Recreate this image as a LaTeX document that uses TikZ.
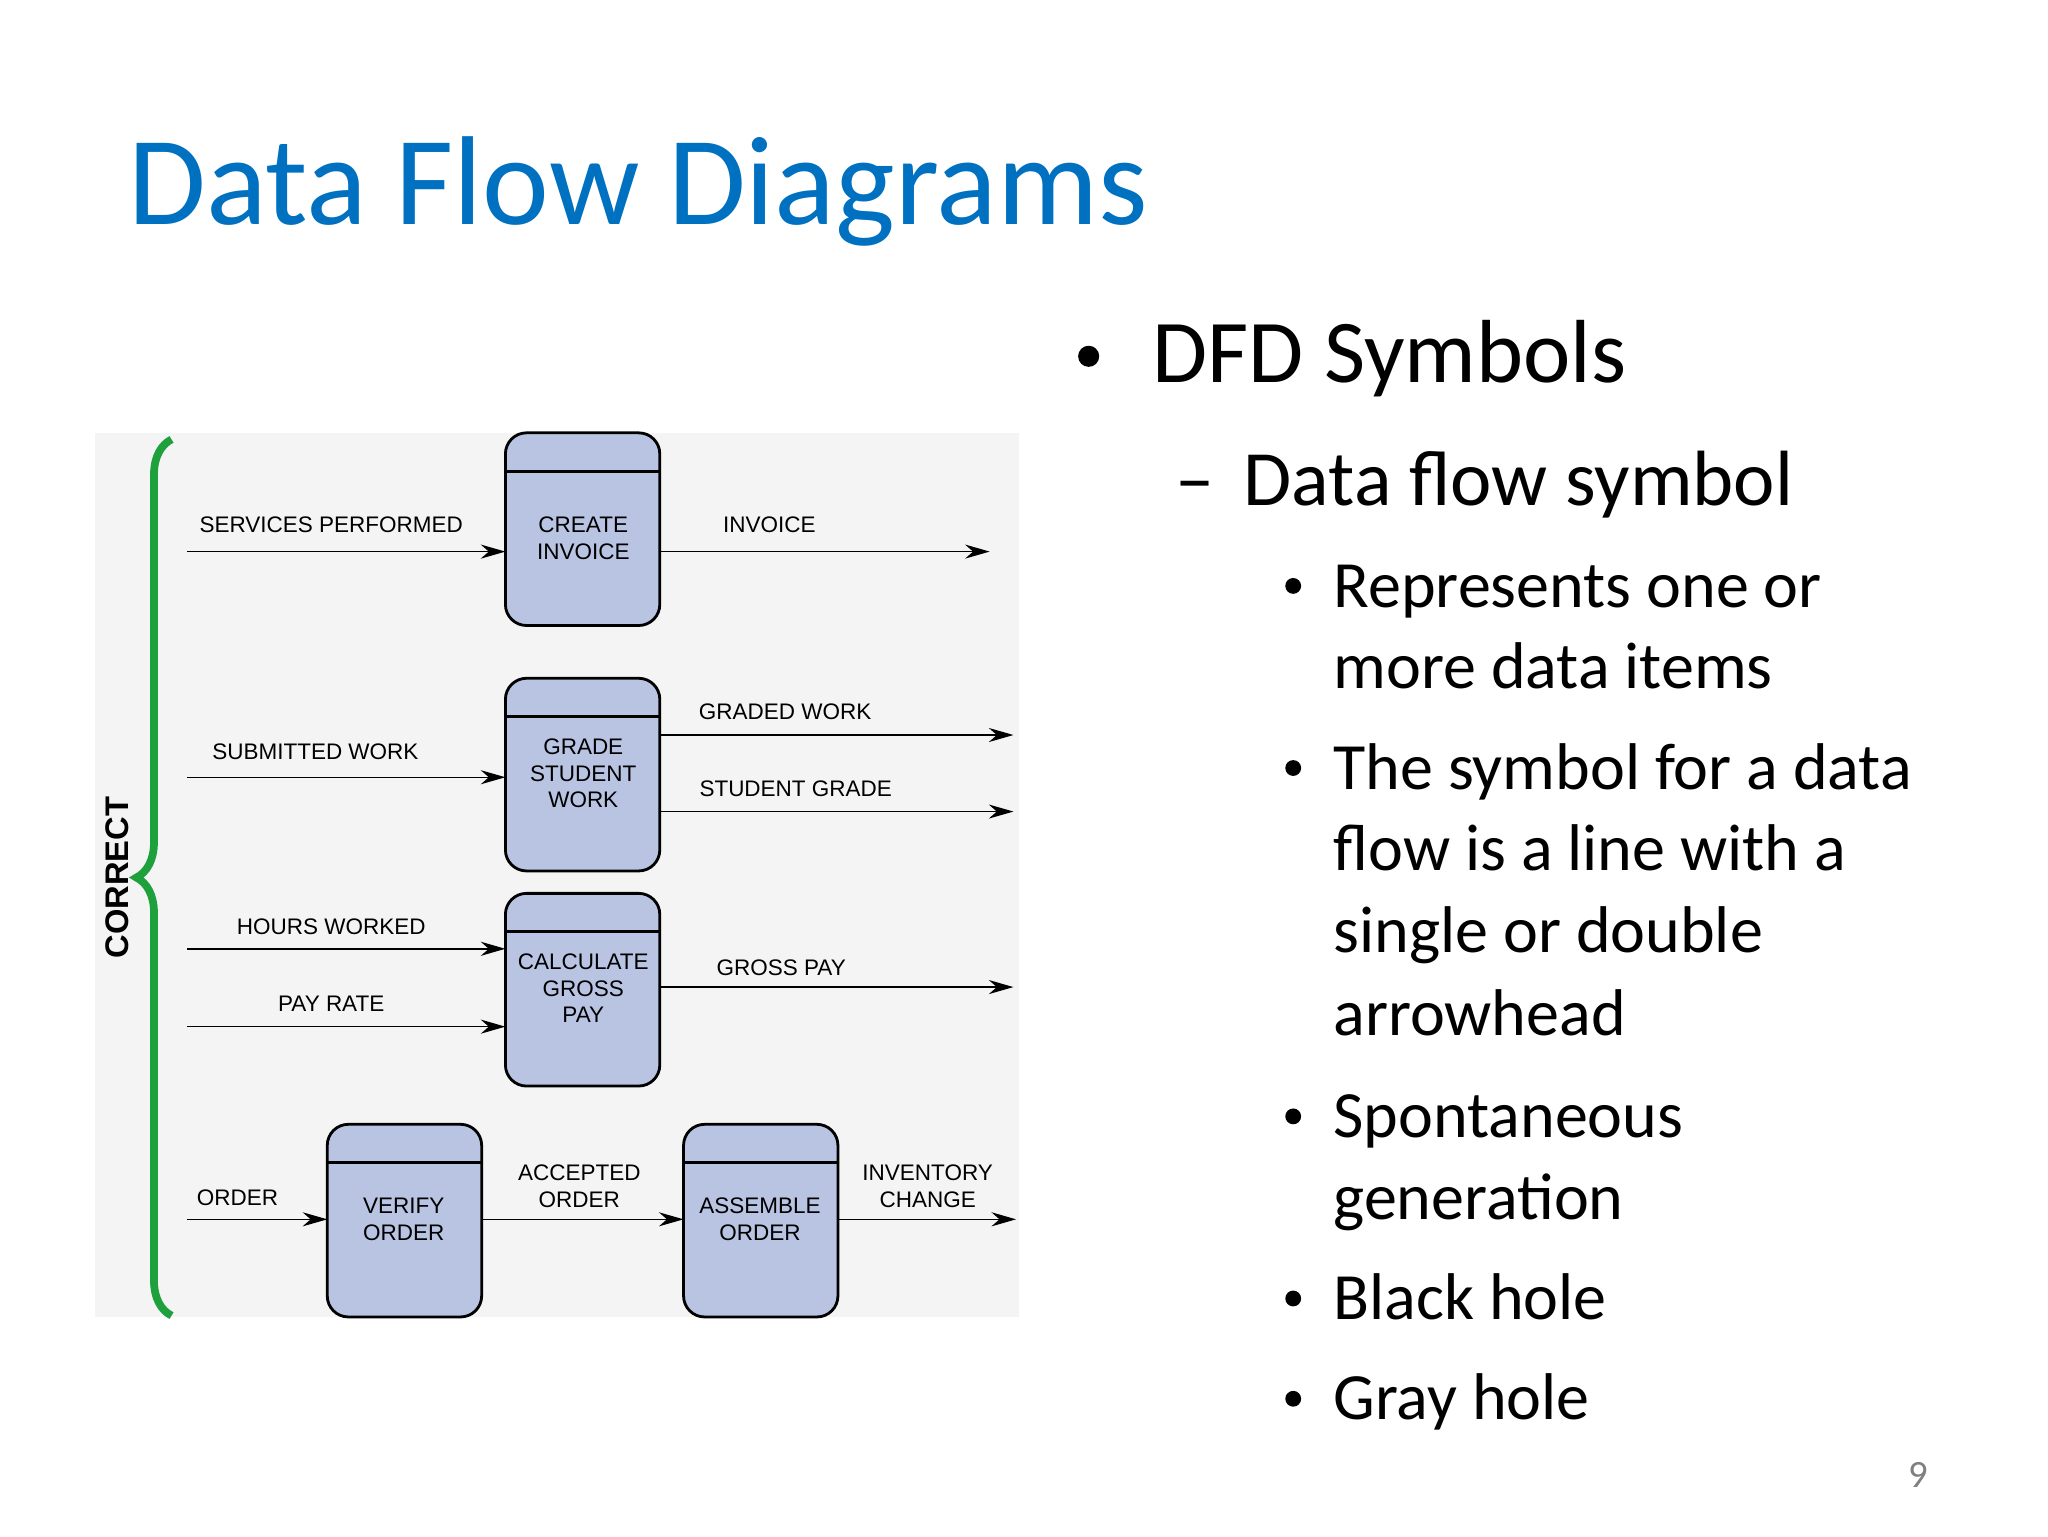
\documentclass[tikz,border=0pt]{standalone}
\usepackage{fontspec}
\setmainfont{Carlito}
\newfontfamily\dfdfont{Liberation Sans}
\usetikzlibrary{arrows.meta,decorations.pathreplacing}
\definecolor{titleblue}{RGB}{0,112,192}
\definecolor{procfill}{RGB}{184,196,226}
\definecolor{panelgray}{RGB}{244,244,244}
\definecolor{bracegreen}{RGB}{30,160,60}
\tikzset{
  proc/.style={draw,thick,rounded corners=6pt,fill=procfill},
  flow/.style={-{Stealth[length=7pt,width=4pt]},thin},
  lbl/.style={font=\dfdfont\fontsize{6.4}{7.6}\selectfont,align=center,inner sep=0pt},
  pt1/.style={font=\fontsize{25.5}{30}\selectfont,anchor=base west,inner sep=0pt},
  pt2/.style={font=\fontsize{22.3}{28}\selectfont,anchor=base west,inner sep=0pt},
  pt3/.style={font=\fontsize{18.8}{24}\selectfont,anchor=base west,inner sep=0pt},
  dot/.style={circle,fill,inner sep=0pt,minimum size=#1},
}
\begin{document}
\begin{tikzpicture}[x=0.013196cm,y=-0.013196cm]
\useasboundingbox (0,0) rectangle (1552,1164);
% title
\node[anchor=base west,inner sep=0pt,text=titleblue,font=\fontsize{36}{42}\selectfont] (title) at (97,170) {Data Flow Diagrams};
% diagram panel
\fill[panelgray] (72,328) rectangle (772,998);
\draw[bracegreen,line width=2.2pt,decorate,decoration={brace,amplitude=10pt}] (130,997) -- (130,333);
\node[rotate=90,font=\dfdfont\bfseries\fontsize{9.3}{11}\selectfont] (correct) at (89,665) {CORRECT};
% processes
\foreach \n/\xa/\ya in {inv/383/328,grade/383/514,gross/383/677,verify/248/852,assemble/518/852}{
  \draw[proc] (\xa,\ya) rectangle ++(117,146);
  \draw[thick] (\xa,\ya+29) -- ++(117,0);
  \coordinate (\n) at (\xa+58,\ya+88);
}
\node[lbl] (invT) at (442,408) {CREATE\\INVOICE};
\node[lbl] (gradeT) at (442,586) {GRADE\\STUDENT\\WORK};
\node[lbl] (grossT) at (442,749) {CALCULATE\\GROSS\\PAY};
\node[lbl] (verifyT) at (306,924) {VERIFY\\ORDER};
\node[lbl] (assembleT) at (576,924) {ASSEMBLE\\ORDER};
% flows
\draw[flow] (142,418) -- (383,418);
\draw[flow] (500,418) -- (750,418);
\node[lbl] at (251,398) {SERVICES PERFORMED};
\node[lbl] at (583,398) {INVOICE};
\draw[flow] (142,589) -- (383,589);
\draw[flow] (500,557) -- (768,557);
\draw[flow] (500,615) -- (768,615);
\node[lbl] at (239,570) {SUBMITTED WORK};
\node[lbl] at (595,539) {GRADED WORK};
\node[lbl] at (603,598) {STUDENT GRADE};
\draw[flow] (142,719) -- (383,719);
\draw[flow] (142,778) -- (383,778);
\draw[flow] (500,748) -- (768,748);
\node[lbl] at (251,702) {HOURS WORKED};
\node[lbl] at (251,761) {PAY RATE};
\node[lbl] at (592,733) {GROSS PAY};
\draw[flow] (142,924) -- (248,924);
\draw[flow] (365,924) -- (518,924);
\draw[flow] (635,924) -- (770,924);
\node[lbl] at (180,908) {ORDER};
\node[lbl] at (439,899) {ACCEPTED\\ORDER};
\node[lbl] at (703,899) {INVENTORY\\CHANGE};
% bullets
\node[dot=6pt] (b1) at (825,270) {};
\node[pt1] (b1t) at (873,290) {DFD Symbols};
\node[pt2] (b2) at (890,383) {–};
\node[pt2] (b2t) at (942,383) {Data flow symbol};
\foreach \y/\t in {460/Represents one or,522/more data items,598/The symbol for a data,660/flow is a line with a,722/single or double,785/arrowhead,862/Spontaneous,924/generation,1000/Black hole,1076/Gray hole}
  \node[pt3] at (1010,\y) {\t};
\foreach \y in {460,598,862,1000,1076}
  \node[dot=4.5pt] at (980,\y-16) {};
\node[anchor=base,text=gray,font=\fontsize{11}{14}\selectfont] (pg) at (1454,1127) {9};
\end{tikzpicture}
\end{document}
